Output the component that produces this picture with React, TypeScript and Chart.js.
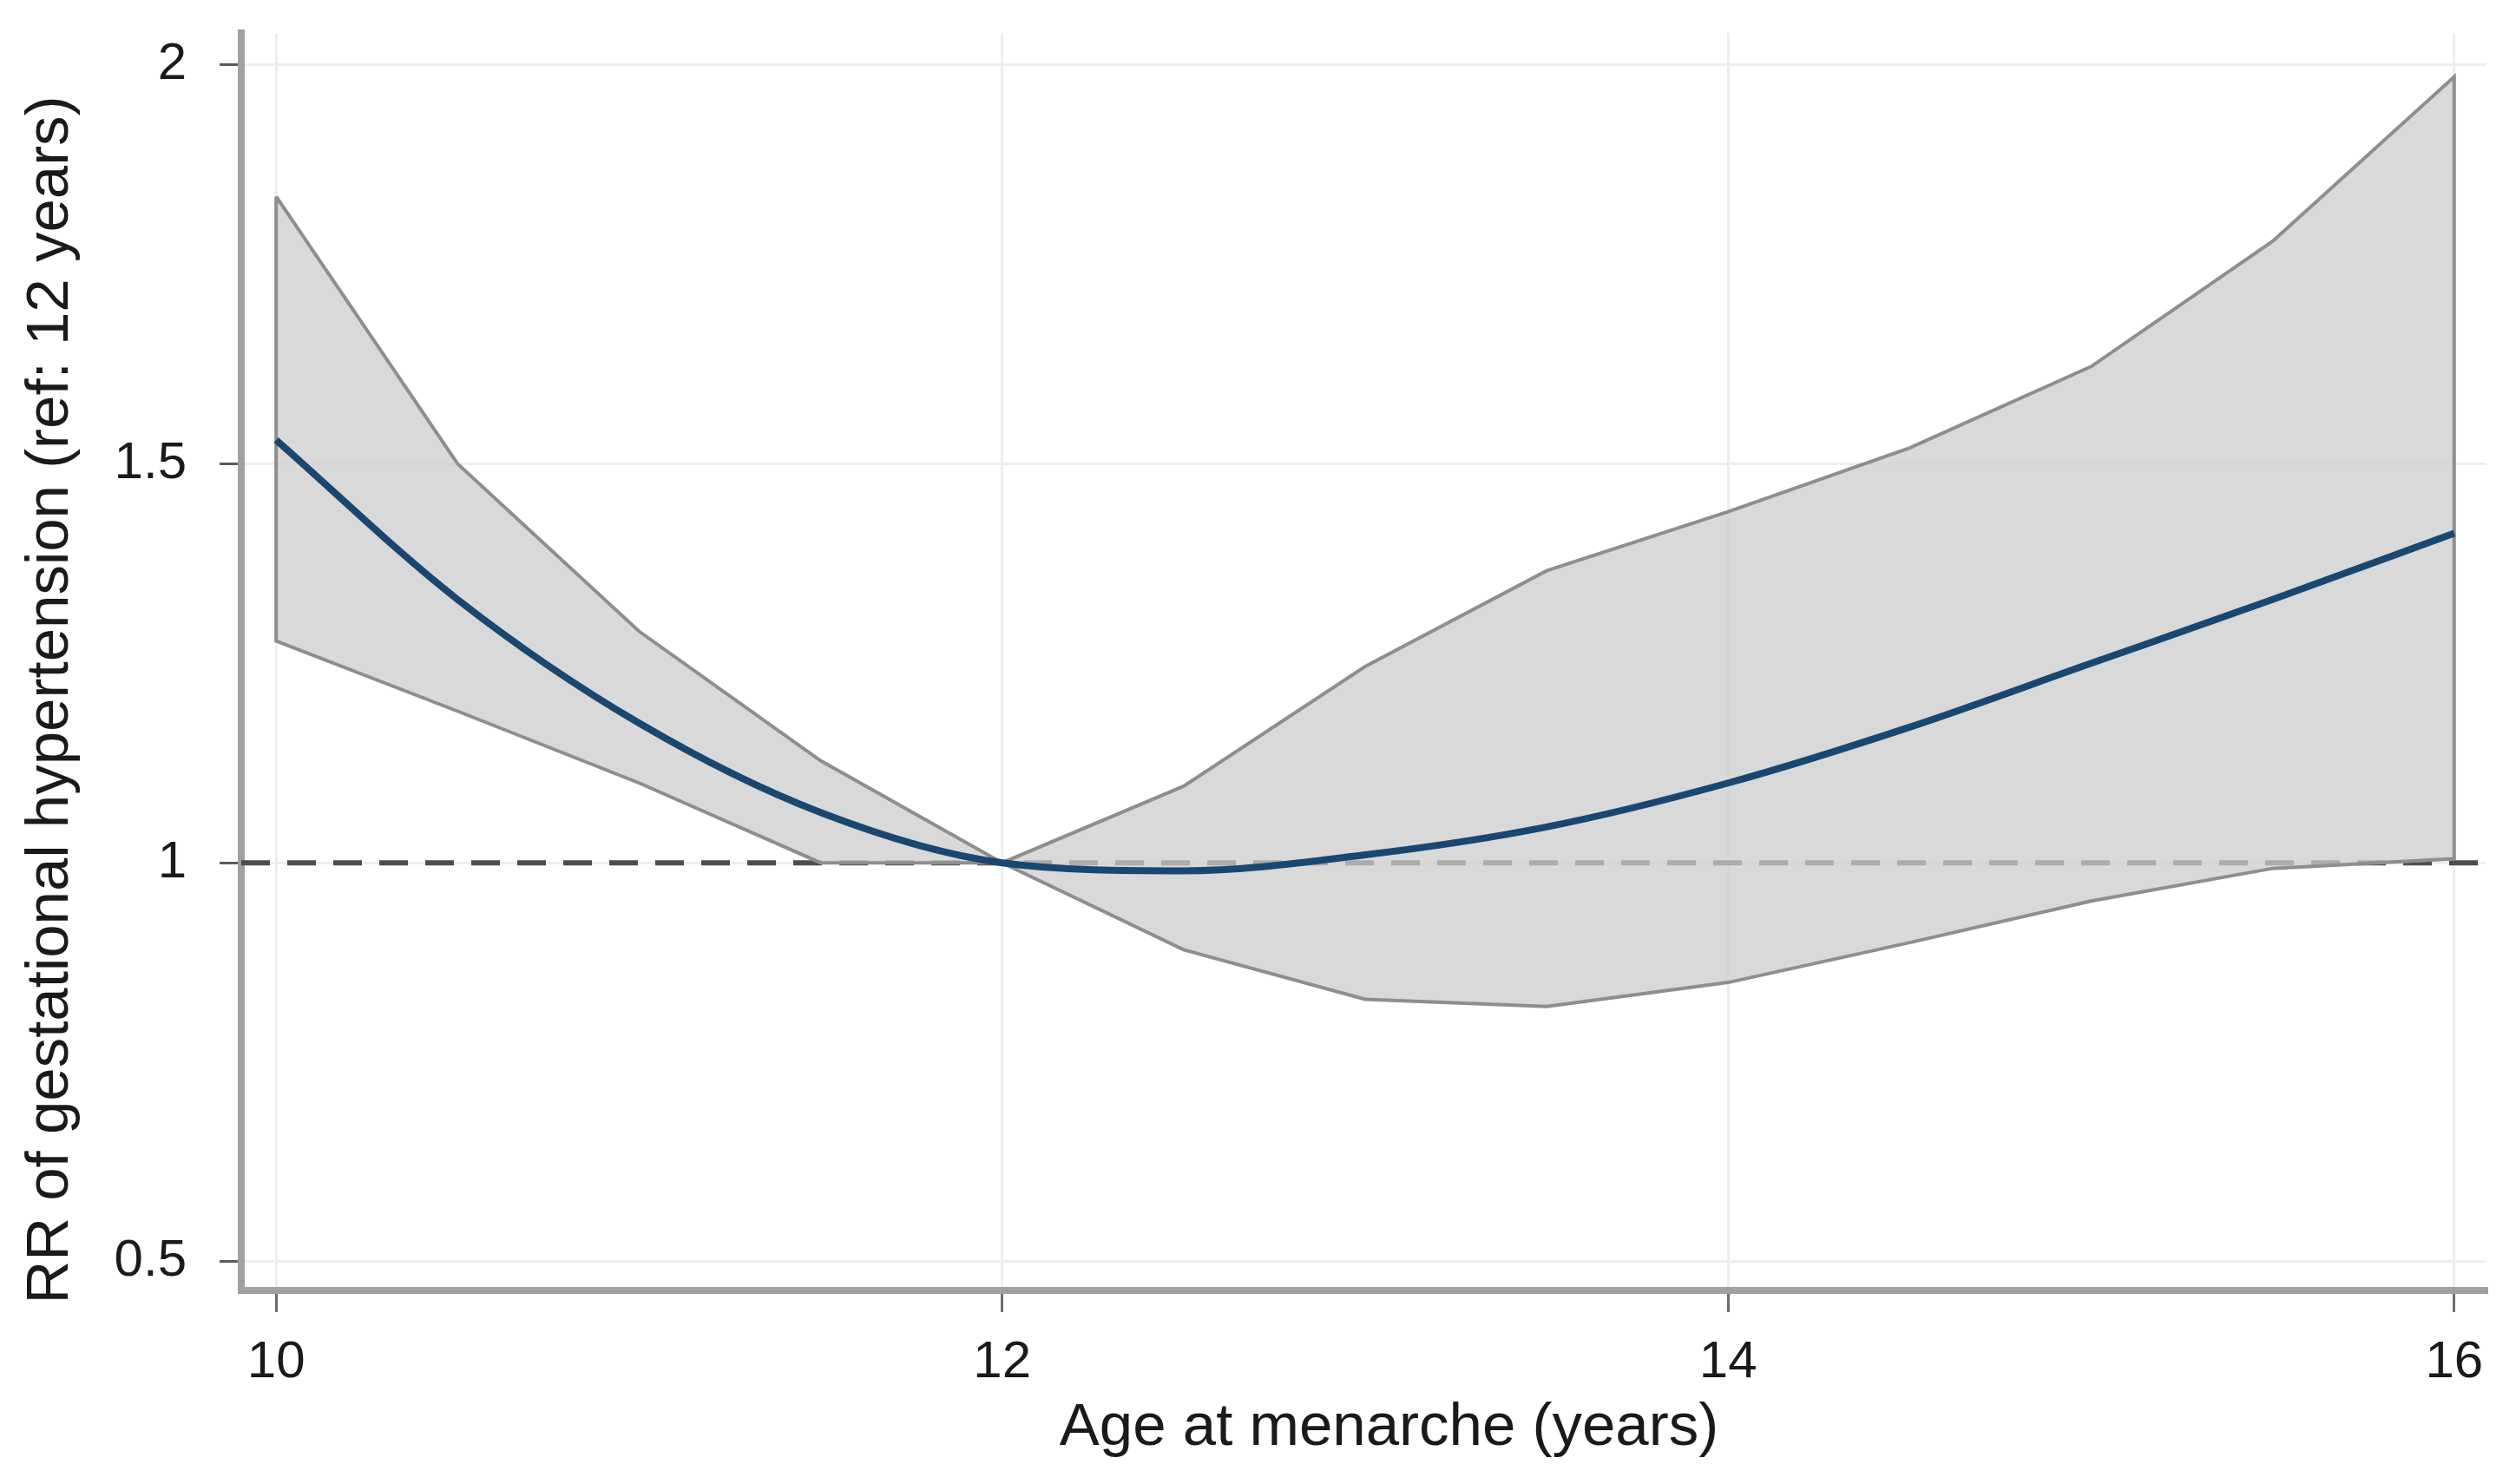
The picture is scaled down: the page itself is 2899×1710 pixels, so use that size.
import React, { useEffect, useRef } from "react";
import { Chart, registerables } from "chart.js";

Chart.register(...registerables);

// ---- data ----
const ages = [10, 10.5, 11, 11.5, 12, 12.5, 13, 13.5, 14, 14.5, 15, 15.5, 16];
const rr = [1.53, 1.33, 1.175, 1.063, 1.0, 0.99, 1.01, 1.045, 1.1, 1.17, 1.25, 1.33, 1.413];
const upperCI = [1.835, 1.5, 1.29, 1.128, 1.0, 1.096, 1.246, 1.366, 1.44, 1.52, 1.622, 1.779, 1.985];
const lowerCI = [1.278, 1.19, 1.1, 1.0, 1.0, 0.891, 0.829, 0.82, 0.85, 0.9, 0.952, 0.993, 1.005];
const xTicks = [10, 12, 14, 16];
const yTicks = [0.5, 1, 1.5, 2];
const refValue = 1;
const xRange = [9.904, 16.089];
const yRange = [0.464, 2.04];
const xTitle = "Age at menarche (years)";
const yTitle = "RR of gestational hypertension (ref: 12 years)";

const FONT = '"Liberation Sans", Arial, Helvetica, sans-serif';

const titlePlugin = {
  id: "axisTitles",
  afterDraw(chart: any) {
    const { ctx, chartArea } = chart;
    ctx.save();
    ctx.fillStyle = "#1a1a1a";
    ctx.font = `69px ${FONT}`;
    ctx.textAlign = "center";
    ctx.textBaseline = "middle";
    ctx.fillText(xTitle, (chartArea.left + chartArea.right) / 2 + 29, chartArea.bottom + 159);
    ctx.translate(59, (chartArea.top + chartArea.bottom) / 2 + 44);
    ctx.rotate(-Math.PI / 2);
    ctx.fillText(yTitle, 0, 0);
    ctx.restore();
  },
};

export default function App() {
  const canvasRef = useRef<HTMLCanvasElement | null>(null);

  useEffect(() => {
    document.body.style.margin = "0";
    document.body.style.overflow = "hidden";
    const canvas = canvasRef.current;
    if (!canvas) return;

    const bandPolygon = [
      ...ages.map((a, i) => ({ x: a, y: upperCI[i] })),
      ...ages
        .map((a, i) => ({ x: a, y: lowerCI[i] }))
        .reverse(),
      { x: ages[0], y: upperCI[0] },
    ];

    const chart = new Chart(canvas, {
      type: "line",
      data: {
        datasets: [
          {
            label: "RR",
            data: ages.map((a, i) => ({ x: a, y: rr[i] })),
            borderColor: "rgb(26,71,111)",
            borderWidth: 8,
            pointRadius: 0,
            fill: false,
            cubicInterpolationMode: "monotone",
          },
          {
            label: "95% CI",
            data: bandPolygon,
            borderColor: "#8e8e8e",
            borderWidth: 4,
            backgroundColor: "rgba(204,204,204,0.75)",
            pointRadius: 0,
            fill: "shape",
            tension: 0,
          },
          {
            label: "ref",
            data: [
              { x: xRange[0], y: refValue },
              { x: xRange[1], y: refValue },
            ],
            borderColor: "#4d4d4d",
            borderWidth: 6,
            borderDash: [33, 20],
            pointRadius: 0,
            fill: false,
          },
        ],
      },
      options: {
        responsive: false,
        animation: false,
        devicePixelRatio: 1,
        layout: { padding: { left: 0, top: 38, right: 34, bottom: 0 } },
        plugins: {
          legend: { display: false },
          tooltip: { enabled: false },
        },
        scales: {
          x: {
            type: "linear",
            min: xRange[0],
            max: xRange[1],
            afterBuildTicks: (scale: any) => {
              scale.ticks = xTicks.map((v) => ({ value: v }));
            },
            afterFit: (scale: any) => {
              scale.height = 223;
              scale.paddingLeft = 0;
              scale.paddingRight = 0;
            },
            grid: {
              color: "#eeeeee",
              lineWidth: 3,
              tickColor: "#6e6e6e",
              tickLength: 25,
              tickWidth: 3,
            },
            border: { display: true, color: "#a0a0a0", width: 8 },
            ticks: {
              padding: 22,
              color: "#1a1a1a",
              font: { family: FONT, size: 60 },
              maxRotation: 0,
              autoSkip: false,
              callback: (v: any) => String(v),
            },
          },
          y: {
            type: "linear",
            min: yRange[0],
            max: yRange[1],
            afterBuildTicks: (scale: any) => {
              scale.ticks = yTicks.map((v) => ({ value: v }));
            },
            afterFit: (scale: any) => {
              scale.width = 278;
              scale.paddingTop = 0;
              scale.paddingBottom = 0;
            },
            grid: {
              color: "#eeeeee",
              lineWidth: 3,
              tickColor: "#5a5a5a",
              tickLength: 25,
              tickWidth: 3,
            },
            border: { display: true, color: "#a0a0a0", width: 8 },
            ticks: {
              padding: 38,
              color: "#1a1a1a",
              font: { family: FONT, size: 60 },
              autoSkip: false,
              callback: (v: any) => String(v),
            },
          },
        },
      },
      plugins: [titlePlugin],
    } as any);

    return () => chart.destroy();
  }, []);

  return (
    <div style={{ width: 2899, height: 1710, background: "#fff" }}>
      <canvas ref={canvasRef} width={2899} height={1710} style={{ display: "block" }} />
    </div>
  );
}
